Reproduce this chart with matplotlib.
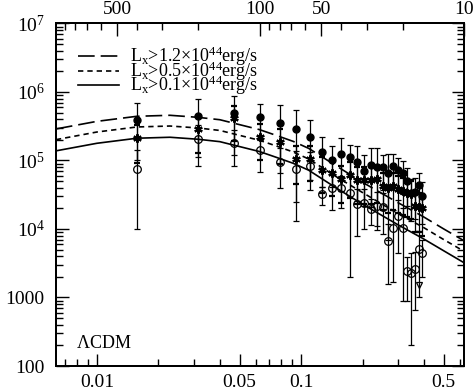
import numpy as np
import matplotlib
matplotlib.use('Agg')
import matplotlib.pyplot as plt
from matplotlib.ticker import NullFormatter, LogLocator

plt.rcParams['font.family'] = 'Liberation Serif'
plt.rcParams['mathtext.fontset'] = 'custom'
plt.rcParams['mathtext.rm'] = 'Liberation Serif'
plt.rcParams['mathtext.it'] = 'Liberation Serif:italic'

# wavenumbers of the measured points
k_data = [0.0157, 0.0314, 0.0471, 0.0628, 0.0785, 0.0942, 0.110, 0.126, 0.141, 0.157,
          0.173, 0.188, 0.204, 0.220, 0.236, 0.251, 0.267, 0.283, 0.298, 0.314,
          0.330, 0.346, 0.361, 0.377, 0.393]

# Lx > 1.2e44 (filled circles)
p_hi = [3.90e5, 4.51e5, 4.89e5, 4.32e5, 3.56e5, 2.85e5, 2.22e5, 1.32e5, 1.02e5, 1.23e5,
        1.14e5, 9.4e4, 7.1e4, 8.6e4, 8.1e4, 7.9e4, 6.5e4, 8.3e4, 7.3e4, 6.5e4,
        5.0e4, 3.3e4, 3.5e4, 4.4e4, 3.0e4]
err_hi = [2.9e5, 3.4e5, 3.7e5, 2.3e5, 2.9e5, 2.6e5, 1.7e5, 9.1e4, 6.1e4, 8.7e4,
          5.5e4, 6.8e4, 4.9e4, 6.5e4, 7.0e4, 4.2e4, 5.8e4, 4.2e4, 3.7e4, 3.3e4,
          2.8e4, 2.0e4, 2.1e4, 2.2e4, 1.8e4]

# Lx > 0.5e44 (stars)
p_mid = [2.11e5, 2.88e5, 4.13e5, 2.20e5, 1.88e5, 1.05e5, 1.05e5, 7.3e4, 6.6e4, 5.4e4,
         6.2e4, 5.1e4, 5.1e4, 5.2e4, 5.4e4, 4.2e4, 3.9e4, 4.2e4, 3.8e4, 3.6e4,
         3.4e4, 3.2e4, 2.2e4, 2.1e4, 2.0e4]
err_mid = [1.2e5, 1.6e5, 2.2e5, 1.2e5, 1.0e5, 6.0e4, 5.5e4, 4.0e4, 3.6e4, 3.0e4,
           3.4e4, 2.8e4, 2.8e4, 2.9e4, 3.0e4, 2.3e4, 2.2e4, 2.3e4, 2.1e4, 2.0e4,
           1.9e4, 1.8e4, 1.3e4, 1.2e4, 1.2e4]

# Lx > 0.1e44 (open circles)
p_lo = [7.5e4, 2.04e5, 1.82e5, 1.42e5, 9.6e4, 7.5e4, 8.4e4, 3.2e4, 4.0e4, 4.0e4,
        3.4e4, 2.3e4, 2.4e4, 1.94e4, 2.2e4, 2.1e4, 6.7e3, 1.04e4, 1.55e4, 1.05e4,
        2.4e3, 2.3e3, 2.6e3, 5.1e3, 4.5e3]
err_lo = [6.5e4, 1.2e5, 1.0e5, 7.4e4, 5.7e4, 6.2e4, 4.7e4, 9.6e3, 2.1e4, 2.0e4,
          3.2e4, 1.5e4, 1.4e4, 8.0e3, 1.25e4, 1.26e4, 5.1e3, 8.7e3, 1.1e4, 9.6e3,
          1.5e3, 2.1e3, 1.95e3, 4.1e3, 2.5e3]

# upper-limit arrow
limit_k = [0.377]
limit_p = [1.5e3]

# model curves
k_model = [0.0063, 0.010, 0.0157, 0.0228, 0.0312, 0.040, 0.0625, 0.075, 0.0914, 0.109,
           0.15, 0.2, 0.3, 0.394, 0.5, 0.63]
model_hi = [2.88e5, 3.72e5, 4.41e5, 4.56e5, 4.26e5, 3.93e5, 2.82e5, 2.34e5, 1.90e5, 1.50e5,
            8.2e4, 4.8e4, 2.4e4, 1.53e4, 1.0e4, 6.7e3]
model_mid = [2.01e5, 2.60e5, 3.08e5, 3.18e5, 2.98e5, 2.74e5, 1.97e5, 1.64e5, 1.33e5, 1.05e5,
             5.7e4, 3.4e4, 1.66e4, 1.07e4, 7.0e3, 4.7e3]
model_lo = [1.38e5, 1.78e5, 2.11e5, 2.18e5, 2.04e5, 1.88e5, 1.35e5, 1.12e5, 9.1e4, 7.2e4,
            3.9e4, 2.3e4, 1.14e4, 7.3e3, 4.8e3, 3.2e3]

labels = [r'L$_{\rm x}$>1.2×10$^{\rm 44}$erg/s',
          r'L$_{\rm x}$>0.5×10$^{\rm 44}$erg/s',
          r'L$_{\rm x}$>0.1×10$^{\rm 44}$erg/s']

k_min, k_max = 0.0063, 0.6285

fig = plt.figure(figsize=(4.74, 3.90), dpi=100)
ax = fig.add_axes([0.118, 0.0615, 0.861, 0.8785])
ax.set_xscale('log')
ax.set_yscale('log')

lw = 1.2
ax.plot(k_model, model_hi, color='k', lw=lw, dashes=(10, 3.6), label=labels[0])
ax.plot(k_model, model_mid, color='k', lw=lw, dashes=(3.2, 2.4), label=labels[1])
ax.plot(k_model, model_lo, color='k', lw=lw, ls='-', label=labels[2])

eb = dict(ecolor='k', elinewidth=0.9, capsize=2.5, capthick=0.9, ls='none')
ax.errorbar(k_data, p_hi, yerr=err_hi, marker='o', ms=5, mfc='k', mec='k', **eb)
ax.errorbar(k_data, p_mid, yerr=err_mid, marker=(6, 2, 0), ms=6, mec='k', mew=1.6, **eb)
ax.errorbar(k_data, p_lo, yerr=err_lo, marker='o', ms=5.5, mfc='none', mec='k', mew=0.9, **eb)
ax.plot(limit_k, limit_p, ls='none', marker='v', ms=5, mfc='none', mec='k', mew=0.9)

ax.set_xlim(k_min, k_max)
ax.set_ylim(100, 1e7)

ax.set_xticks([0.01, 0.05, 0.1, 0.5])
ax.set_xticklabels(['0.01', '0.05', '0.1', '0.5'])
ax.xaxis.set_minor_locator(LogLocator(base=10, subs=np.arange(2, 10)))
ax.xaxis.set_minor_formatter(NullFormatter())
ax.set_yticks([1e2, 1e3, 1e4, 1e5, 1e6, 1e7])
ax.set_yticklabels(['100', '1000', r'10$^{\rm 4}$', r'10$^{\rm 5}$', r'10$^{\rm 6}$', r'10$^{\rm 7}$'])
ax.yaxis.set_minor_locator(LogLocator(base=10, subs=np.arange(2, 10)))
ax.yaxis.set_minor_formatter(NullFormatter())

ax.tick_params(which='both', direction='in', right=True, top=False, width=1.0, labelsize=14)
ax.tick_params(which='major', length=9)
ax.tick_params(which='minor', length=5)
ax.tick_params(axis='y', pad=8)
ax.tick_params(axis='x', pad=6)
for s in ax.spines.values():
    s.set_linewidth(1.4)

# top axis: scale 2*pi/k
ax2 = ax.twiny()
ax2.set_xscale('log')
ax2.set_xlim(2 * np.pi / k_min, 2 * np.pi / k_max)
ax2.set_xticks([500, 100, 50, 10])
ax2.set_xticklabels(['500', '100', '50', '10'])
ax2.xaxis.set_minor_locator(LogLocator(base=10, subs=np.arange(2, 10)))
ax2.xaxis.set_minor_formatter(NullFormatter())
ax2.tick_params(which='both', direction='in', width=1.0, labelsize=14, pad=4)
ax2.tick_params(which='major', length=9)
ax2.tick_params(which='minor', length=5)
for s in ax2.spines.values():
    s.set_linewidth(1.4)

ax.legend(loc='upper left', frameon=False, fontsize=13, handlelength=2.3,
          labelspacing=-0.5, borderaxespad=0.7, borderpad=0.5, handletextpad=0.6)

ax.text(0.05, 0.04, r'$\Lambda$CDM', transform=ax.transAxes, fontsize=13, va='bottom')

fig.savefig('out.png', dpi=100)
